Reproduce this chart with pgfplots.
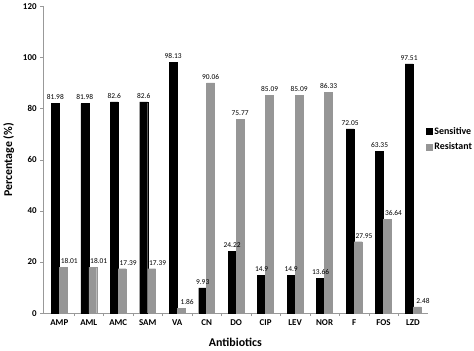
\documentclass[border=0pt]{standalone}
\usepackage{fontspec}
\setmainfont{Carlito}
\usepackage{pgfplots}
\pgfplotsset{compat=1.18}
\definecolor{resgray}{RGB}{150,150,150}
\begin{document}
\begin{tikzpicture}
\begin{axis}[
  scale only axis,
  width=386bp, height=308bp,
  ybar=0pt, bar width=8bp,
  ymin=0, ymax=120, ytick={0,20,...,120},
  xmin=-0.55, xmax=12.5,
  xtick=data,
  xticklabels={AMP,AML,AMC,SAM,VA,CN,DO,CIP,LEV,NOR,F,FOS,LZD},
  minor xtick={0.5,1.5,...,11.5},
  major x tick style={draw=none},
  minor tick length=3bp,
  xtick align=outside,
  ytick align=outside,
  major tick length=3bp,
  axis x line*=bottom, axis y line*=left,
  axis line style={gray!80, -},
  tick style={gray!80},
  /pgf/number format/assume math mode=true,
  ticklabel style={font=\fontsize{9}{10}\selectfont\bfseries},
  xlabel={\textbf{Antibiotics}},
  ylabel={\textbf{Percentage (\%)}},
  label style={font=\fontsize{12}{14}\selectfont},
  xlabel style={yshift=-6bp},
  ylabel style={yshift=2bp},
  clip=false,
  nodes near coords,
  nodes near coords style={font=\fontsize{7.5}{8}\selectfont, text=black},
  point meta=explicit symbolic,
  legend style={at={(0.995,0.567)}, anchor=west, draw=none, fill=none,
    font=\fontsize{10}{12}\selectfont\bfseries, row sep=3bp, inner sep=0pt},
  legend cell align=left,
  legend image code/.code={\fill[#1] (0bp,-3bp) rectangle (6bp,3bp);},
]
\addplot[fill=black, draw=black] coordinates {
(0,81.98)[81.98] (1,81.98)[81.98] (2,82.6)[82.6] (3,82.6)[82.6] (4,98.13)[98.13]
(5,9.93)[9.93] (6,24.22)[24.22] (7,14.9)[14.9] (8,14.9)[14.9] (9,13.66)[13.66]
(10,72.05)[72.05] (11,63.35)[63.35] (12,97.51)[97.51]};
\addplot[fill=resgray, draw=resgray,
  visualization depends on={rawy \as \yval},
  nodes near coords style={xshift={ifthenelse(\yval<50,6,0)*1bp}}] coordinates {
(0,18.01)[18.01] (1,18.01)[18.01] (2,17.39)[17.39] (3,17.39)[17.39] (4,1.86)[1.86]
(5,90.06)[90.06] (6,75.77)[75.77] (7,85.09)[85.09] (8,85.09)[85.09] (9,86.33)[86.33]
(10,27.95)[27.95] (11,36.64)[36.64] (12,2.48)[2.48]};
\legend{Sensitive,Resistant}
\end{axis}
\end{tikzpicture}
\end{document}
